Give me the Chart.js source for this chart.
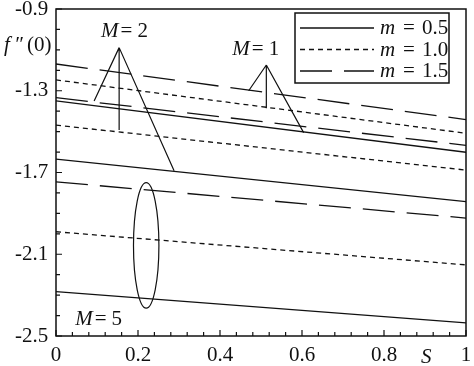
<!DOCTYPE html>
<html>
<head>
<meta charset="utf-8">
<script src="https://cdn.jsdelivr.net/npm/chart.js@4.4.1/dist/chart.umd.min.js"></script>
<style>
  html, body { margin: 0; padding: 0; background: #fff; }
  #wrap { width: 474px; height: 366px; }
</style>
</head>
<body>
<div id="wrap"><canvas id="chart" width="474" height="366"></canvas></div>
<script>
// S values at the two ends of every line
let sValues = [0, 1];

// f''(0), one array per (M, m)
let M1_m05 = [-1.350, -1.601];
let M1_m10 = [-1.247, -1.508];
let M1_m15 = [-1.169, -1.441];
let M2_m05 = [-1.635, -1.843];
let M2_m10 = [-1.468, -1.688];
let M2_m15 = [-1.334, -1.567];
let M5_m05 = [-2.283, -2.436];
let M5_m10 = [-1.990, -2.152];
let M5_m15 = [-1.746, -1.923];

let mLabels = ['0.5', '1.0', '1.5'];
let yTicks = [-2.5, -2.1, -1.7, -1.3, -0.9];
let xTicks = [0, 0.2, 0.4, 0.6, 0.8, 1];

let dashes = [[], [5, 4], [32, 12]];
let serif = '"Liberation Serif", "DejaVu Serif", serif';

let toPoints = function (vals) {
    return sValues.map(function (s, i) { return { x: s, y: vals[i] }; });
};

let makeSet = function (vals, mIndex) {
    return {
        data: toPoints(vals),
        borderColor: '#111',
        borderWidth: 1.3,
        borderDash: dashes[mIndex],
        pointRadius: 0,
        fill: false,
        tension: 0
    };
};

let datasets = [
    makeSet(M1_m05, 0), makeSet(M1_m10, 1), makeSet(M1_m15, 2),
    makeSet(M2_m05, 0), makeSet(M2_m10, 1), makeSet(M2_m15, 2),
    makeSet(M5_m05, 0), makeSet(M5_m10, 1), makeSet(M5_m15, 2)
];

// annotation arrows (data units): apex then the three leg ends
let arrowM2 = [[0.154, -1.089], [0.093, -1.350], [0.154, -1.492], [0.288, -1.691]];
let arrowM1 = [[0.513, -1.174], [0.470, -1.300], [0.513, -1.386], [0.604, -1.505]];

let drawM = function (ctx, x, y, num) {
    ctx.font = 'italic 21px ' + serif;
    ctx.fillText('M', x, y);
    let w = ctx.measureText('M').width;
    ctx.font = '21px ' + serif;
    ctx.fillText('=', x + w + 2, y);
    let w2 = ctx.measureText('=').width;
    ctx.fillText(num, x + w + w2 + 7, y);
};

let decorPlugin = {
    id: 'decor',
    afterDraw: function (chart) {
        let ctx = chart.ctx;
        let a = chart.chartArea;
        let xs = chart.scales.x;
        let ys = chart.scales.y;
        let px = function (v) { return xs.getPixelForValue(v); };
        let py = function (v) { return ys.getPixelForValue(v); };

        ctx.save();
        ctx.strokeStyle = '#111';
        ctx.fillStyle = '#111';
        ctx.lineWidth = 1.5;
        ctx.setLineDash([]);
        ctx.strokeRect(a.left, a.top, a.right - a.left, a.bottom - a.top);

        // inward ticks
        ctx.lineWidth = 1.2;
        ctx.beginPath();
        for (let i = 0; i <= 16; i++) {
            let y = py(-2.5 + i * 0.1);
            let len = i % 4 === 0 ? 6 : 4;
            ctx.moveTo(a.left, y);
            ctx.lineTo(a.left + len, y);
        }
        for (let i = 0; i <= 25; i++) {
            let x = px(i * 0.04);
            let len = i % 5 === 0 ? 6 : 4;
            ctx.moveTo(x, a.bottom);
            ctx.lineTo(x, a.bottom - len);
        }
        ctx.stroke();

        // axis titles
        ctx.textBaseline = 'alphabetic';
        ctx.textAlign = 'left';
        ctx.font = 'italic 21px ' + serif;
        ctx.fillText('f', 4, 51);
        ctx.fillText('\u2033', 14, 51);
        ctx.font = '21px ' + serif;
        ctx.fillText('(0)', 27, 51);
        ctx.font = 'italic 21px ' + serif;
        ctx.fillText('S', 421, 363);

        // M labels and arrows
        ctx.lineWidth = 1.2;
        [arrowM2, arrowM1].forEach(function (arr) {
            ctx.beginPath();
            for (let k = 1; k < 4; k++) {
                ctx.moveTo(px(arr[0][0]), py(arr[0][1]));
                ctx.lineTo(px(arr[k][0]), py(arr[k][1]));
            }
            ctx.stroke();
        });
        drawM(ctx, px(0.110), py(-1.039), '2');
        drawM(ctx, px(0.430), py(-1.125), '1');
        drawM(ctx, px(0.047), py(-2.446), '5');

        // ellipse around the M = 5 lines
        ctx.beginPath();
        ctx.ellipse(px(0.220), py(-2.057), px(0.220) - px(0.189), py(-2.364) - py(-2.057), 0, 0, Math.PI * 2);
        ctx.stroke();

        // legend
        let lx = a.right - 171, ly = a.top + 4;
        ctx.lineWidth = 1.5;
        ctx.strokeRect(lx, ly, 154, 70);
        ctx.lineWidth = 1.3;
        for (let i = 0; i < 3; i++) {
            let yy = ly + 15 + i * 21.5;
            ctx.setLineDash(dashes[i]);
            ctx.beginPath();
            ctx.moveTo(lx + 5, yy);
            ctx.lineTo(lx + 79, yy);
            ctx.stroke();
            ctx.setLineDash([]);
            ctx.font = 'italic 21px ' + serif;
            ctx.fillText('m', lx + 85, yy + 6);
            ctx.font = '21px ' + serif;
            ctx.fillText('=', lx + 108, yy + 6);
            ctx.fillText(mLabels[i], lx + 127, yy + 6);
        }
        ctx.restore();
    }
};

new Chart(document.getElementById('chart').getContext('2d'), {
    type: 'line',
    data: { datasets: datasets },
    options: {
        responsive: false,
        animation: false,
        layout: { padding: { top: 9, right: 8, left: 15, bottom: 0 } },
        plugins: { legend: { display: false }, tooltip: { enabled: false } },
        scales: {
            x: {
                type: 'linear',
                min: 0,
                max: 1,
                afterFit: function (s) { s.height = 30; },
                afterBuildTicks: function (s) { s.ticks = xTicks.map(function (v) { return { value: v }; }); },
                grid: { display: false, drawTicks: false },
                border: { display: false },
                ticks: {
                    color: '#111',
                    padding: 0,
                    maxRotation: 0,
                    font: { family: serif, size: 21, lineHeight: 1.87 },
                    callback: function (v) { return (v === 0 || v === 1) ? String(v) : v.toFixed(1); }
                }
            },
            y: {
                type: 'linear',
                min: -2.5,
                max: -0.9,
                afterFit: function (s) { s.width = 41; },
                afterBuildTicks: function (s) { s.ticks = yTicks.map(function (v) { return { value: v }; }); },
                grid: { display: false, drawTicks: false },
                border: { display: false },
                ticks: {
                    color: '#111',
                    padding: 0,
                    crossAlign: 'far',
                    font: { family: serif, size: 21, lineHeight: 0.8 },
                    callback: function (v) { return v.toFixed(1); }
                }
            }
        }
    },
    plugins: [decorPlugin]
});
</script>
</body>
</html>
